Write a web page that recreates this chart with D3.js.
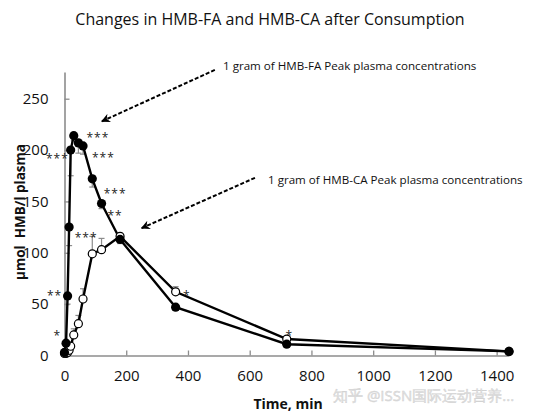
<!DOCTYPE html>
<html>
<head>
<meta charset="utf-8">
<script src="https://cdn.jsdelivr.net/npm/d3@7"></script>
<style>
  body { margin: 0; background: #fff; }
  text { font-family: "Open Sans", "Noto Sans", sans-serif; }
</style>
</head>
<body>
<svg width="545" height="415"></svg>
<script>
// sampling times (min)
var times = [0, 5, 10, 15, 20, 30, 45, 60, 90, 120, 180, 360, 720, 1440];
// HMB-FA (filled markers) and HMB-CA (open markers), umol/l
var faValues = [3, 12, 58, 125, 200, 214, 207, 204, 172, 148, 113, 47, 11, 4];
var caValues = [2, 2, 3, 5, 9, 20, 31, 55, 99, 103, 116, 62, 16, 4];
// error bars (FA drawn down, CA drawn up)
var faErr = [0, 2, 8, 18, 25, 5, 10, 8, 8, 5, 4, 3, 2, 1];
var caErr = [1, 1, 1, 2, 4, 6, 8, 10, 17, 11, 3, 5, 2, 1];
var xTicks = [0, 200, 400, 600, 800, 1000, 1200, 1400];
var yTicks = [0, 50, 100, 150, 200, 250];
// significance marks, anchored in data units
var sigMarks = [
    { t: 108, v: 215, label: "***" },
    { t: -23, v: 194, label: "***" },
    { t: 126, v: 195, label: "***" },
    { t: 164, v: 160, label: "***" },
    { t: 164, v: 139, label: "**" },
    { t: 70, v: 117, label: "***" },
    { t: -32, v: 61, label: "**" },
    { t: -23, v: 22, label: "*" },
    { t: 396, v: 61, label: "*" },
    { t: 728, v: 22, label: "*" }
];
// arrow start / tip in data units
var notes = [
    { text: "1 gram of HMB-FA Peak plasma concentrations", from: [487, 278], to: [121, 228] },
    { text: "1 gram of HMB-CA Peak plasma concentrations", from: [617, 173], to: [250, 124] }
];

var svg = d3.select("svg");
var x = d3.scaleLinear().domain([0, 1440]).range([64.5, 509]);
var y = d3.scaleLinear().domain([0, 276]).range([355.5, 72]);

svg.append("defs").append("marker")
    .attr("id", "head")
    .attr("viewBox", "0 0 10 10")
    .attr("refX", 9).attr("refY", 5)
    .attr("markerWidth", 4.5).attr("markerHeight", 4.5)
    .attr("markerUnits", "strokeWidth")
    .attr("orient", "auto")
    .append("path")
    .attr("d", "M0,0L10,5L0,10L3,5Z")
    .attr("fill", "#000");

// title
svg.append("text")
    .attr("x", 270).attr("y", 25)
    .attr("text-anchor", "middle")
    .attr("font-size", 16)
    .attr("fill", "#111")
    .text("Changes in HMB-FA and HMB-CA after Consumption");

// axes
var xAxis = svg.append("g")
    .attr("transform", "translate(0," + y(0) + ")")
    .call(d3.axisBottom(x).tickValues(xTicks).tickFormat(d3.format("d"))
        .tickSizeInner(-5).tickSizeOuter(0).tickPadding(15));
var yAxis = svg.append("g")
    .attr("transform", "translate(" + x(0) + ",0)")
    .call(d3.axisLeft(y).tickValues(yTicks).tickFormat(d3.format("d"))
        .tickSizeInner(-5).tickSizeOuter(0).tickPadding(16));
[xAxis, yAxis].forEach(function (g) {
    g.select(".domain").attr("stroke", "#8c8c8c").attr("stroke-width", 1.6);
    g.selectAll(".tick line").attr("stroke", "#8c8c8c").attr("stroke-width", 1.3);
    g.selectAll(".tick text")
        .attr("font-family", "Open Sans, sans-serif")
        .attr("font-size", 15)
        .attr("fill", "#111");
});

// axis titles
svg.append("text")
    .attr("x", 288).attr("y", 409)
    .attr("text-anchor", "middle")
    .attr("font-size", 14)
    .attr("font-weight", "bold")
    .attr("fill", "#111")
    .text("Time, min");
svg.append("text")
    .attr("transform", "translate(25,212) rotate(-90)")
    .attr("text-anchor", "middle")
    .attr("font-size", 13.5)
    .attr("font-weight", "bold")
    .attr("fill", "#111")
    .attr("xml:space", "preserve")
    .text("μmol  HMB/l plasma");

// error bars
function errorBars(vals, errs, dir) {
    var g = svg.append("g").attr("stroke", "#8c8c8c").attr("stroke-width", 1.2);
    times.forEach(function (t, i) {
        if (!errs[i]) return;
        var y0 = y(vals[i]), y1 = y(vals[i] + dir * errs[i]);
        g.append("line").attr("x1", x(t)).attr("x2", x(t)).attr("y1", y0).attr("y2", y1);
        g.append("line").attr("x1", x(t) - 3).attr("x2", x(t) + 3).attr("y1", y1).attr("y2", y1);
    });
}
errorBars(faValues, faErr, -1);
errorBars(caValues, caErr, 1);

var line = d3.line().x(function (d) { return x(d[0]); }).y(function (d) { return y(d[1]); });
var caPts = d3.zip(times, caValues);
var faPts = d3.zip(times, faValues);

svg.append("path").datum(caPts).attr("d", line)
    .attr("fill", "none").attr("stroke", "#000").attr("stroke-width", 2.4);
svg.append("path").datum(faPts).attr("d", line)
    .attr("fill", "none").attr("stroke", "#000").attr("stroke-width", 2.4);

svg.append("g").selectAll("circle").data(caPts).enter().append("circle")
    .attr("cx", function (d) { return x(d[0]); })
    .attr("cy", function (d) { return y(d[1]); })
    .attr("r", 4)
    .attr("fill", "#fff").attr("stroke", "#000").attr("stroke-width", 1.2);
svg.append("g").selectAll("circle").data(faPts).enter().append("circle")
    .attr("cx", function (d) { return x(d[0]); })
    .attr("cy", function (d) { return y(d[1]); })
    .attr("r", 4.6)
    .attr("fill", "#000");

// significance asterisks
svg.append("g").selectAll("text").data(sigMarks).enter().append("text")
    .attr("x", function (d) { return x(d.t); })
    .attr("y", function (d) { return y(d.v) + 7; })
    .attr("text-anchor", "middle")
    .attr("font-size", 12)
    .attr("letter-spacing", 1)
    .attr("fill", "#222")
    .text(function (d) { return d.label; });

// peak annotations with dashed arrows
notes.forEach(function (n) {
    svg.append("line")
        .attr("x1", x(n.from[0])).attr("y1", y(n.from[1]))
        .attr("x2", x(n.to[0])).attr("y2", y(n.to[1]))
        .attr("stroke", "#000").attr("stroke-width", 2)
        .attr("stroke-dasharray", "4,2")
        .attr("marker-end", "url(#head)");
});
svg.append("text").attr("x", 223).attr("y", 70)
    .attr("font-size", 11.6).attr("fill", "#111").text(notes[0].text);
svg.append("text").attr("x", 268).attr("y", 184)
    .attr("font-size", 11.6).attr("fill", "#111").text(notes[1].text);

// watermark
svg.append("text")
    .attr("x", 333).attr("y", 401)
    .attr("font-family", "Noto Sans CJK SC, sans-serif")
    .attr("font-size", 15)
    .attr("fill", "#e2e2e2")
    .attr("stroke", "#cfcfcf").attr("stroke-width", 0.4)
    .text("知乎 @ISSN国际运动营养...");
</script>
</body>
</html>
